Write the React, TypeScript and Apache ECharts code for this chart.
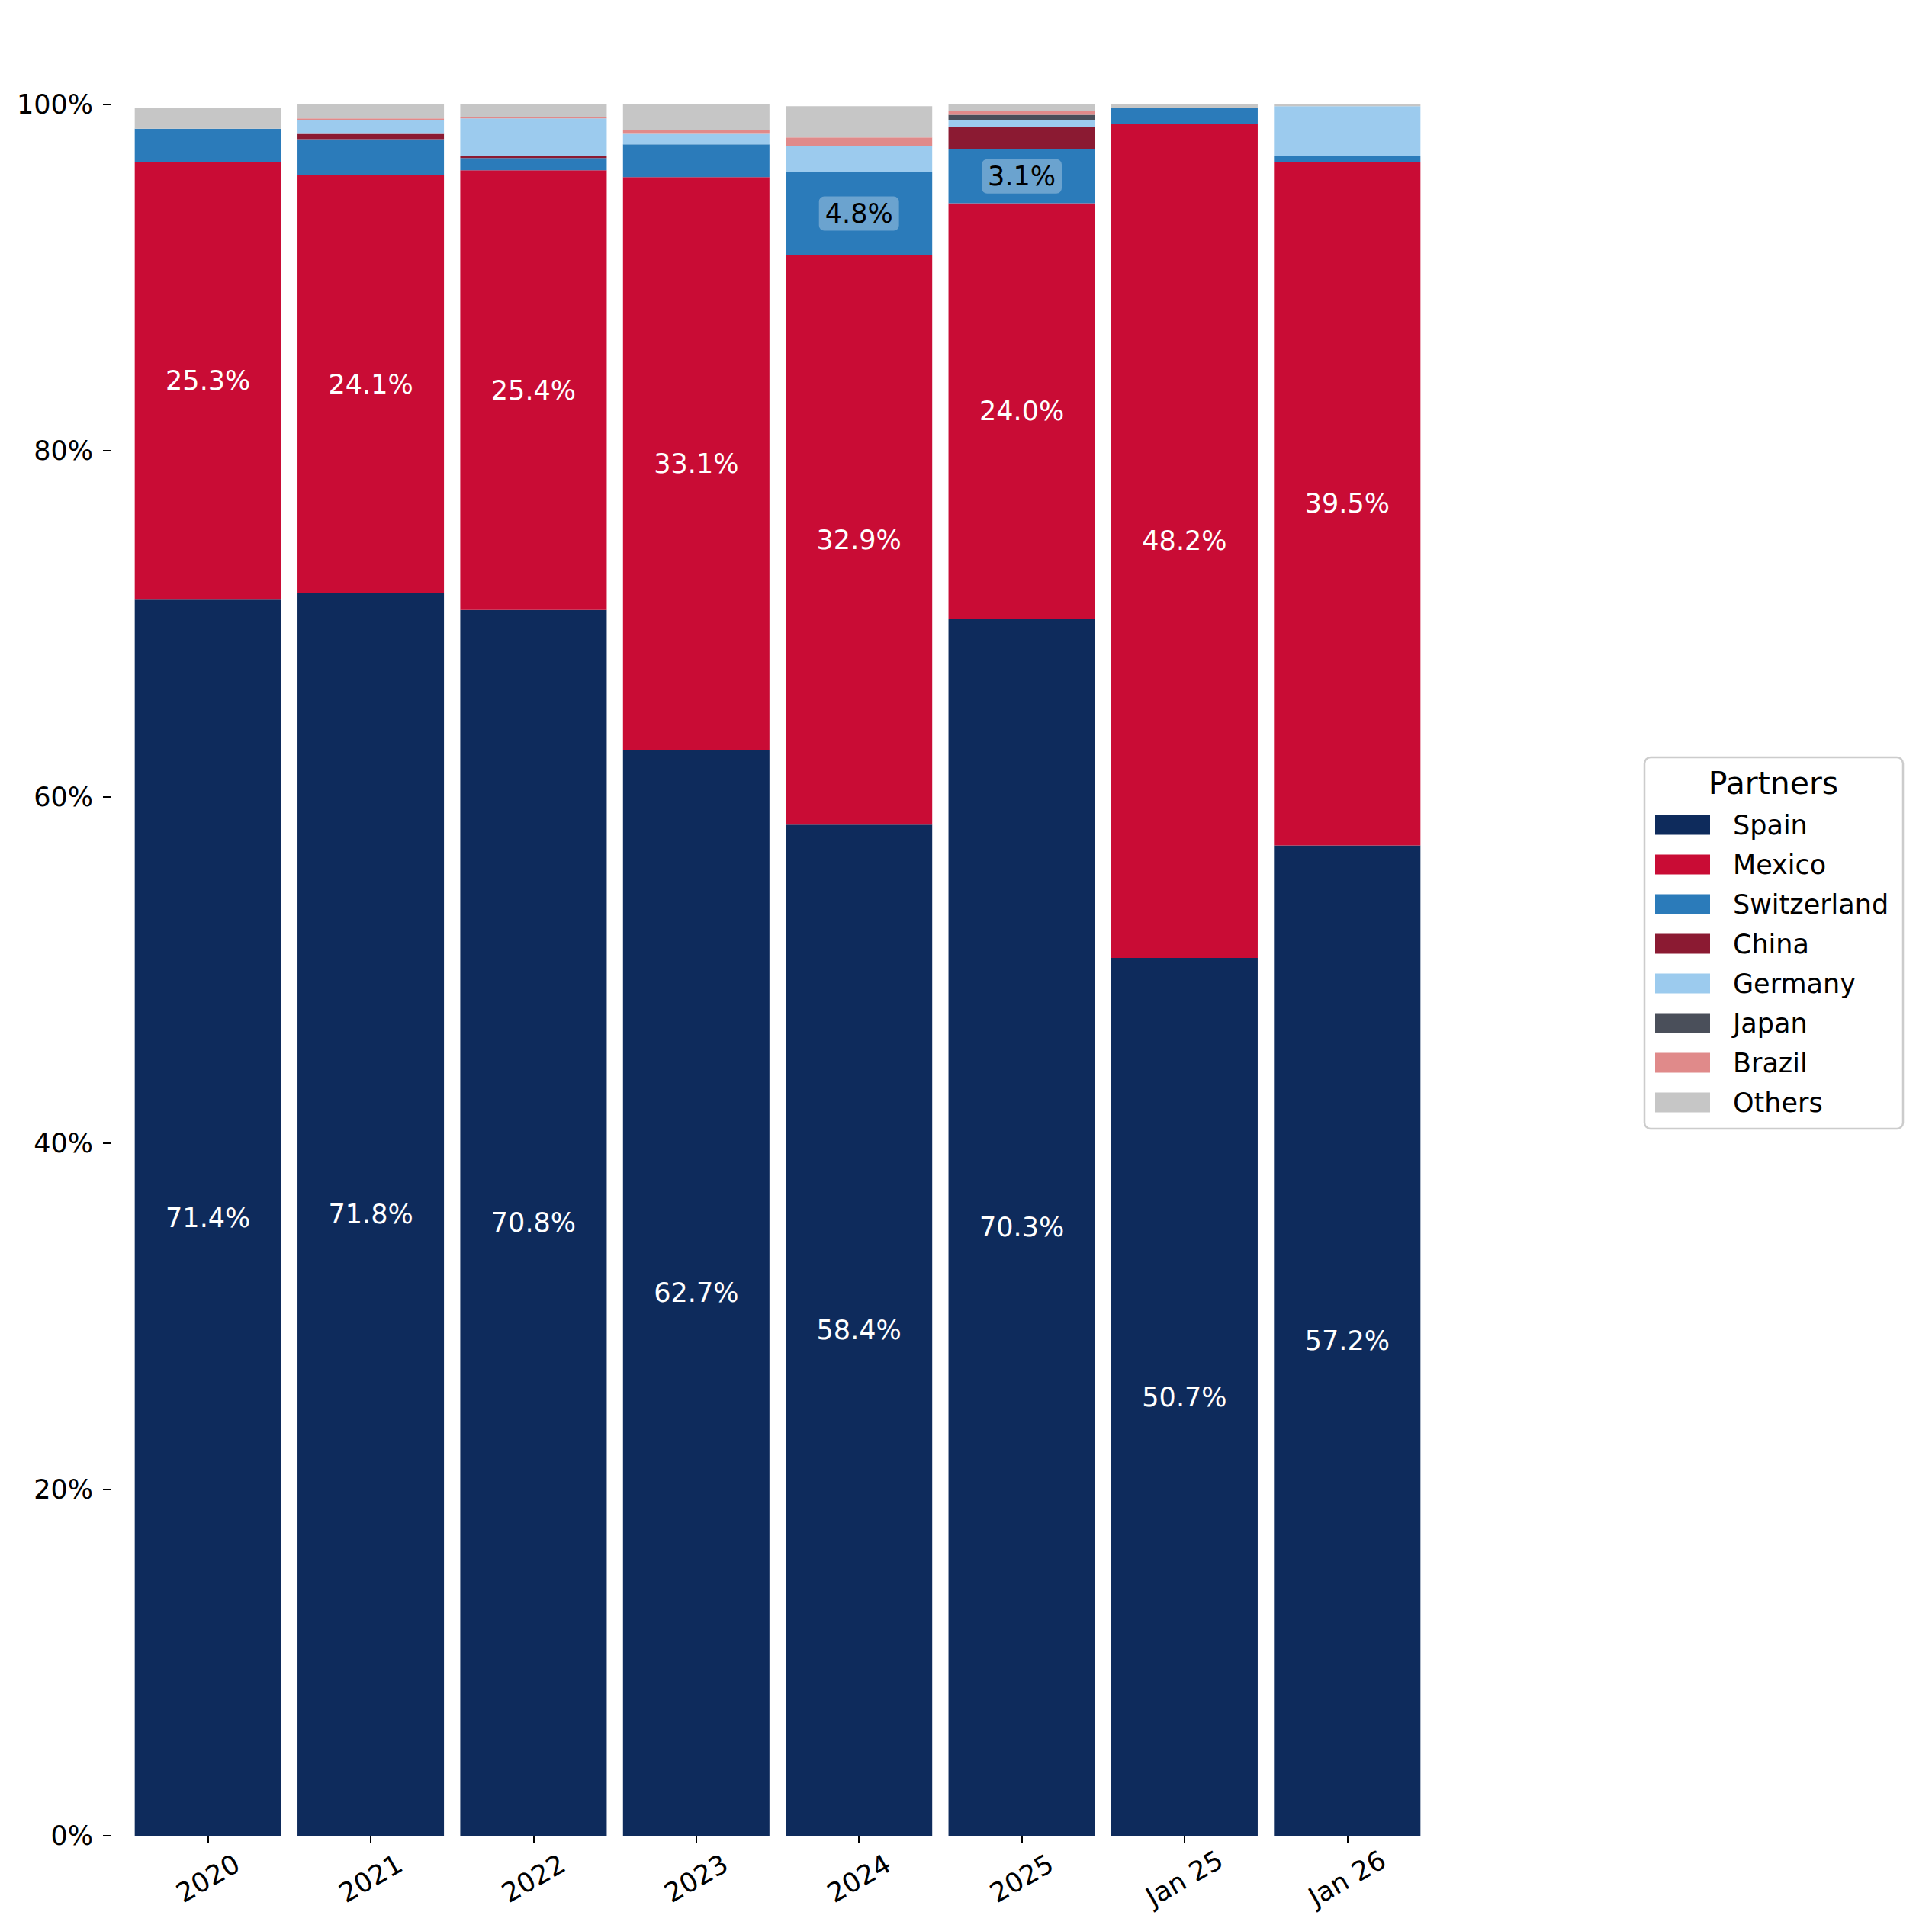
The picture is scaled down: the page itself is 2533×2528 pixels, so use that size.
import React, { useEffect, useRef } from "react";
import * as echarts from "echarts";

// Share of imports by partner, in percent of each period's total
const categories = ["2020", "2021", "2022", "2023", "2024", "2025", "Jan 25", "Jan 26"];
const spain = [71.4, 71.8, 70.8, 62.7, 58.4, 70.3, 50.7, 57.2];
const mexico = [25.3, 24.1, 25.4, 33.1, 32.9, 24.0, 48.2, 39.5];
const switzerland = [1.9, 2.1, 0.7, 1.9, 4.8, 3.1, 0.9, 0.3];
const china = [0, 0.3, 0.1, 0, 0, 1.3, 0, 0];
const germany = [0, 0.8, 2.2, 0.6, 1.5, 0.4, 0, 2.9];
const japan = [0, 0, 0, 0, 0, 0.3, 0, 0];
const brazil = [0, 0.1, 0.1, 0.2, 0.5, 0.2, 0, 0];
const others = [1.2, 0.9, 0.7, 1.5, 1.8, 0.4, 0.2, 0.1];

const partnerNames = ["Spain", "Mexico", "Switzerland", "China", "Germany", "Japan", "Brazil", "Others"];
const partnerValues = [spain, mexico, switzerland, china, germany, japan, brazil, others];
const partnerColors = ["#0e2b5c", "#c90c35", "#2b7bba", "#8b1a32", "#9ccbee", "#4a4f5a", "#e08a8a", "#c6c6c6"];

const yTicks = [0, 20, 40, 60, 80, 100];
const LABEL_MIN = 3;

const FONT = "DejaVu Sans";

export default function App() {
  const ref = useRef<HTMLDivElement>(null);

  useEffect(() => {
    if (!ref.current) return;
    const chart = echarts.init(ref.current, undefined, { renderer: "svg" });

    const darkSegments = new Set(["Spain", "Mexico"]);

    const series = partnerNames.map((name, si) => {
      const dark = darkSegments.has(name);
      const boxed = name === "Switzerland";
      return {
        name,
        type: "bar",
        stack: "share",
        barWidth: "90%",
        itemStyle: { color: partnerColors[si] },
        emphasis: { disabled: true },
        label: {
          show: false,
          position: "inside",
          fontFamily: FONT,
          fontSize: 35,
          color: dark ? "#ffffff" : "#000000",
          formatter: (p: any) => `${Number(p.value).toFixed(1)}%`,
          ...(boxed
            ? {
                backgroundColor: "rgba(255,255,255,0.3)",
                padding: [6, 8, 4, 8],
                borderRadius: 7,
              }
            : {}),
        },
        data: partnerValues[si].map((v) => ({
          value: v,
          label: { show: v >= LABEL_MIN },
        })),
      };
    });

    chart.setOption({
      animation: false,
      backgroundColor: "#ffffff",
      grid: { left: 166, right: 660, top: 137, bottom: 121 },
      xAxis: {
        type: "category",
        data: categories,
        axisLine: { show: false },
        axisTick: {
          show: true,
          alignWithLabel: true,
          length: 10,
          lineStyle: { color: "#000", width: 2 },
        },
        axisLabel: {
          rotate: 30,
          align: "center",
          verticalAlign: "middle",
          margin: 56,
          fontFamily: FONT,
          fontSize: 35,
          color: "#000",
        },
      },
      yAxis: {
        type: "value",
        min: yTicks[0],
        max: yTicks[yTicks.length - 1],
        interval: yTicks[1] - yTicks[0],
        offset: 21,
        axisLine: { show: false },
        axisTick: { show: true, length: 10, lineStyle: { color: "#000", width: 2 } },
        splitLine: { show: false },
        axisLabel: {
          margin: 23,
          fontFamily: FONT,
          fontSize: 35,
          color: "#000",
          formatter: (v: number) => `${v}%`,
        },
      },
      legend: {
        orient: "vertical",
        left: 2170,
        top: 1064,
        padding: 0,
        icon: "rect",
        itemWidth: 72,
        itemHeight: 26,
        itemGap: 17,
        selectedMode: false,
        data: partnerNames,
        textStyle: {
          fontFamily: FONT,
          fontSize: 35,
          color: "#000",
          padding: [0, 0, 0, 25],
        },
      },
      graphic: [
        {
          type: "rect",
          z: -1,
          shape: { x: 2156, y: 993, width: 339, height: 487, r: 8 },
          style: { fill: "rgba(255,255,255,0.8)", stroke: "#cccccc", lineWidth: 2.5 },
        },
        {
          type: "text",
          x: 2325,
          y: 1027,
          style: {
            text: "Partners",
            fontFamily: FONT,
            fontSize: 41,
            fill: "#000",
            textAlign: "center",
            textVerticalAlign: "middle",
          },
        },
      ],
      series,
    });

    return () => chart.dispose();
  }, []);

  return (
    <div
      ref={ref}
      style={{ position: "fixed", left: 0, top: 0, width: 2533, height: 2528 }}
    />
  );
}
